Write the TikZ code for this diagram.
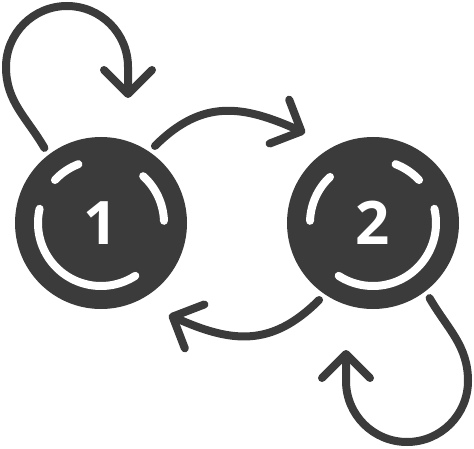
\documentclass[tikz,border=0pt]{standalone}
\usepackage{fontspec}
\setsansfont{Open Sans}
\usetikzlibrary{arrows.meta}
\definecolor{ink}{HTML}{3B3B3B}

\begin{document}
\begin{tikzpicture}[x=1pt,y=1pt,
  coin/.style={circle,fill=ink,minimum size=172pt,inner sep=0pt,outer sep=8pt,
    text=white,font=\sffamily\bfseries\fontsize{60}{60}\selectfont},
  ring/.style={white,line width=8pt,line cap=round},
  flow/.style={ink,line width=8pt,line cap=round,
    -{Straight Barb[length=24pt,width=48pt,round]}}]
\useasboundingbox (0,0) rectangle (474,448);
\node[coin] (one) at (101,225) {1};
\node[coin] (two) at (373,225) {2};
% white dashes round the numbers
\draw[ring] (one.center) ++(111:63) arc[start angle=111,end angle=137,radius=63];
\draw[ring] (one.center) ++(2:63) arc[start angle=2,end angle=48,radius=63];
\draw[ring] (one.center) ++(167:63) arc[start angle=167,end angle=303,radius=63];
\draw[ring] (two.center) ++(43:63) arc[start angle=43,end angle=69,radius=63];
\draw[ring] (two.center) ++(133:63) arc[start angle=133,end angle=178,radius=63];
\draw[ring] (two.center) ++(13:63) arc[start angle=13,end angle=-123,radius=63];
% free ends of the arrows
\coordinate (loopA) at (128,350);
\coordinate (loopB) at (346,98);
\coordinate (topB) at (305,315);
\coordinate (botB) at (169,133);
% arrows
\draw[flow] (one.127) to[out=120,in=-90] (6,381)
  arc[start angle=180,end angle=0,radius=61] -- (loopA);
\draw[flow] (two.-53) to[out=-60,in=90] (468,67)
  arc[start angle=0,end angle=-180,radius=61] -- (loopB);
\draw[flow] (one.55) to[out=45,in=156,looseness=1.15] (topB);
\draw[flow] (two.-125) to[out=225,in=-24,looseness=1.15] (botB);
\end{tikzpicture}
\end{document}
